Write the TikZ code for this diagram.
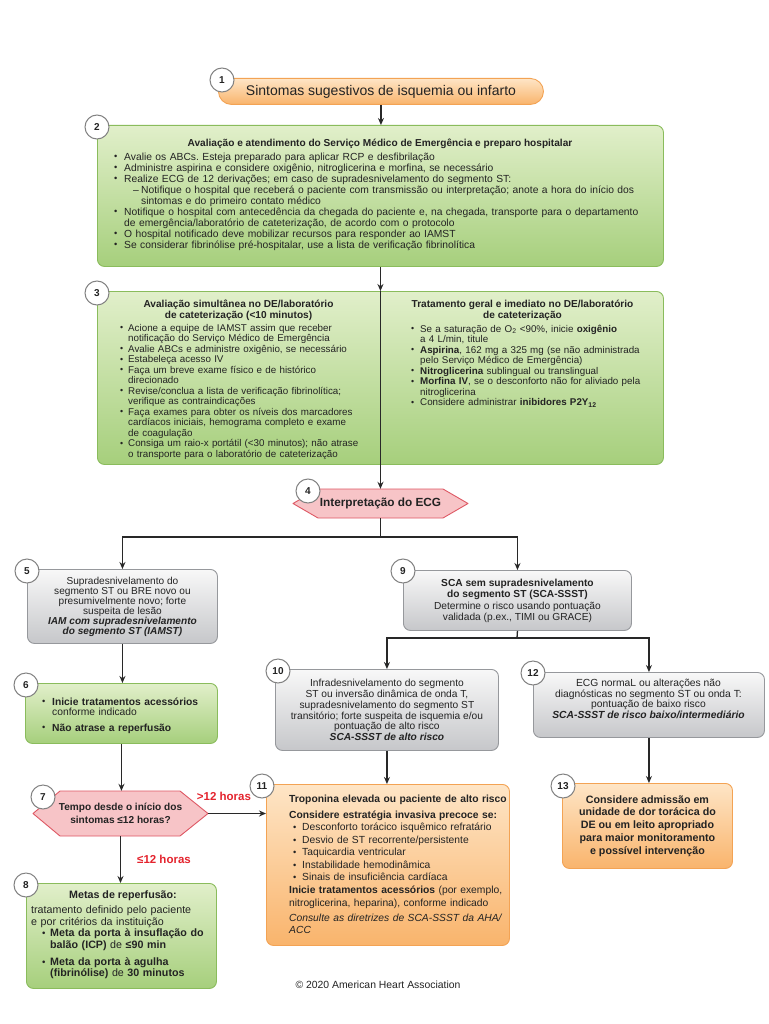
\documentclass[tikz,border=0pt]{standalone}
\usepackage{fontspec}
\setmainfont{Liberation Sans}
\usetikzlibrary{arrows.meta}
\setlength{\parindent}{0pt}
\frenchspacing
\definecolor{grtop}{RGB}{225,239,202}
\definecolor{grbot}{RGB}{166,207,124}
\definecolor{grline}{RGB}{138,188,92}
\definecolor{ortop}{RGB}{254,229,198}
\definecolor{orbot}{RGB}{249,180,108}
\definecolor{orline}{RGB}{243,163,84}
\definecolor{pkfill}{RGB}{247,196,199}
\definecolor{pkline}{RGB}{222,88,100}
\definecolor{gytop}{RGB}{248,248,248}
\definecolor{gybot}{RGB}{198,199,202}
\definecolor{gyline}{RGB}{150,152,156}
\definecolor{hred}{RGB}{228,35,45}
\definecolor{txt}{RGB}{35,35,35}
\definecolor{numline}{RGB}{130,130,130}
\definecolor{linec}{RGB}{40,40,40}
\newcommand{\fs}[2]{\fontsize{#1}{#2}\selectfont}
\newcommand{\sbul}{\raisebox{0.2pt}{\scalebox{0.9}{\textbullet}}}
\newcommand{\bul}[2]{\par\noindent\hangindent=\dimexpr#1+#2\relax\hangafter=1\hspace*{#1}\makebox[#2][l]{\sbul}}
\newcommand{\dsh}[2]{\par\noindent\hangindent=\dimexpr#1+#2\relax\hangafter=1\hspace*{#1}\makebox[#2][l]{–}}
\newcommand{\nl}{\break}
\begin{document}
\begin{tikzpicture}[x=1pt,y=-1pt,text=txt,
  box/.style={rounded corners=7pt, line width=0.9pt, inner sep=0pt, anchor=north west},
  gbox/.style={box, draw=grline, top color=grtop, bottom color=grbot},
  obox/.style={box, draw=orline, top color=ortop, bottom color=orbot},
  ybox/.style={box, draw=gyline, top color=gytop, bottom color=gybot},
  hexfill/.style={fill=pkfill, draw=pkline, line width=0.9pt, line join=round},
  num/.style={circle, draw=numline, line width=1pt, fill=white, minimum size=24pt, inner sep=0pt, font=\bfseries\fs{10}{10}},
  conn/.style={line width=1.3pt, draw=linec},
  arr/.style={conn, -{Stealth[length=7pt,width=6pt]}},
  lst/.style={anchor=north west, inner sep=0pt, align=left},
  ttl/.style={anchor=north, inner sep=0pt, align=center, font=\bfseries\fs{10.1}{11}},
  lab/.style={font=\bfseries\fs{11.5}{12}, text=hred, inner sep=0pt}
]
\useasboundingbox[fill=white] (0,0) rectangle (768,1024);

% ---------- boxes ----------
\node[obox, rounded corners=13pt, minimum width=325pt, minimum height=26pt, font=\fs{14}{15}] (b1) at (218,78) {Sintomas sugestivos de isquemia ou infarto};
\node[gbox, minimum width=566pt, minimum height=141pt] (b2) at (97,125) {};
\node[gbox, minimum width=566pt, minimum height=173pt] (b3) at (97,291) {};

\filldraw[hexfill] (293,503.5) -- (318,489) -- (443,489) -- (468,503.5) -- (443,518) -- (318,518) -- cycle;
\node[minimum width=175pt, minimum height=29pt, inner sep=0pt, font=\bfseries\fs{11.8}{12}] (b4) at (380.5,503.5) {Interpretação do ECG};

\node[ybox, minimum width=190pt, minimum height=74pt, align=center, font=\fs{10.1}{10}] (b5) at (27,569) {Supradesnivelamento do\\segmento ST ou BRE novo ou\\presumivelmente novo; forte\\suspeita de lesão\\\textbf{\textit{IAM com supradesnivelamento}}\\\textbf{\textit{do segmento ST (IAMST)}}};

\node[ybox, minimum width=228pt, minimum height=60pt, align=center, font=\fs{10.2}{11}] (b9) at (403,570) {\textbf{SCA sem supradesnivelamento}\\\textbf{do segmento ST (SCA-SSST)}\\[1pt]Determine o risco usando pontuação\\validada (p.ex., TIMI ou GRACE)};

\node[gbox, minimum width=192pt, minimum height=60pt] (b6) at (25,683) {};

\filldraw[hexfill] (33,813.5) -- (60,791) -- (180,791) -- (208,813.5) -- (180,836) -- (60,836) -- cycle;
\node[minimum width=175pt, minimum height=45pt, inner sep=0pt, align=center, font=\bfseries\fs{10.1}{13.5}] (b7) at (120.5,813.5) {Tempo desde o início dos\\sintomas ≤12 horas?};

\node[gbox, minimum width=190pt, minimum height=105pt] (b8) at (26,883) {};

\node[ybox, minimum width=223pt, minimum height=81pt, align=center, font=\fs{10.2}{10.8}] (b10) at (275,669) {Infradesnivelamento do segmento\\ST ou inversão dinâmica de onda T,\\supradesnivelamento do segmento ST\\transitório; forte suspeita de isquemia e/ou\\pontuação de alto risco\\\textbf{\textit{SCA-SSST de alto risco}}};

\node[obox, minimum width=243pt, minimum height=161pt] (b11) at (266,784) {};

\node[ybox, minimum width=231pt, minimum height=65pt] (b12) at (533,672) {};
\node[align=center, font=\fs{10.3}{10.5}, inner sep=0pt] (t12) at (648.5,699) {ECG normaL ou alterações não\\diagnósticas no segmento ST ou onda T:\\pontuação de baixo risco\\\textbf{\textit{SCA-SSST de risco baixo/intermediário}}};

\node[obox, minimum width=170pt, minimum height=85pt, align=center, font=\bfseries\fs{10.7}{12.8}] (b13) at (562,783) {Considere admissão em\\unidade de dor torácica do\\DE ou em leito apropriado\\para maior monitoramento\\e possível intervenção};

% ---------- texts in list boxes ----------
\node[anchor=base, inner sep=0pt, font=\bfseries\fs{10.1}{11}] (t2) at (380,146.5) {Avaliação e atendimento do Serviço Médico de Emergência e preparo hospitalar};
\node[lst, text width=545pt, font=\fs{10.3}{11}] (l2) at (114,148.9) {%
\bul{0pt}{10pt}Avalie os ABCs. Esteja preparado para aplicar RCP e desfibrilação
\bul{0pt}{10pt}Administre aspirina e considere oxigênio, nitroglicerina e morfina, se necessário
\bul{0pt}{10pt}Realize ECG de 12 derivações; em caso de supradesnivelamento do segmento ST:
\dsh{19pt}{8pt}Notifique o hospital que receberá o paciente com transmissão ou interpretação; anote a hora do início dos\nl sintomas e do primeiro contato médico
\bul{0pt}{10pt}Notifique o hospital com antecedência da chegada do paciente e, na chegada, transporte para o departamento\nl de emergência/laboratório de cateterização, de acordo com o protocolo
\bul{0pt}{10pt}O hospital notificado deve mobilizar recursos para responder ao IAMST
\bul{0pt}{10pt}Se considerar fibrinólise pré-hospitalar, use a lista de verificação fibrinolítica\par};

\node[ttl] (t3a) at (238.5,299.9) {Avaliação simultânea no DE/laboratório\\de cateterização (<10 minutos)};
\node[ttl] (t3b) at (522.5,299.9) {Tratamento geral e imediato no DE/laboratório\\de cateterização};
\node[lst, text width=258pt, font=\fs{9.8}{10.5}] (l3a) at (120,320.3) {%
\bul{0pt}{8pt}Acione a equipe de IAMST assim que receber\nl notificação do Serviço Médico de Emergência
\bul{0pt}{8pt}Avalie ABCs e administre oxigênio, se necessário
\bul{0pt}{8pt}Estabeleça acesso IV
\bul{0pt}{8pt}Faça um breve exame físico e de histórico\nl direcionado
\bul{0pt}{8pt}Revise/conclua a lista de verificação fibrinolítica;\nl verifique as contraindicações
\bul{0pt}{8pt}Faça exames para obter os níveis dos marcadores\nl cardíacos iniciais, hemograma completo e exame\nl de coagulação
\bul{0pt}{8pt}Consiga um raio-x portátil (<30 minutos); não atrase\nl o transporte para o laboratório de cateterização\par};
\node[lst, text width=250pt, font=\fs{9.8}{10.5}] (l3b) at (411,321.3) {%
\bul{0pt}{9pt}Se a saturação de O\textsubscript{2} <90\%, inicie \textbf{oxigênio}\nl a 4 L/min, titule
\bul{0pt}{9pt}\textbf{Aspirina}, 162 mg a 325 mg (se não administrada\nl pelo Serviço Médico de Emergência)
\bul{0pt}{9pt}\textbf{Nitroglicerina} sublingual ou translingual
\bul{0pt}{9pt}\textbf{Morfina IV}, se o desconforto não for aliviado pela\nl nitroglicerina
\bul{0pt}{9pt}Considere administrar \textbf{inibidores P2Y\textsubscript{12}}\par};

\node[lst, text width=180pt, font=\fs{10.3}{10}] (l6) at (42,694.8) {%
\bul{0pt}{10pt}\textbf{Inicie tratamentos acessórios}\nl conforme indicado\par\vspace{6pt}
\bul{0pt}{10pt}\textbf{Não atrase a reperfusão}\par};

\node[anchor=base, inner sep=0pt, font=\bfseries\fs{10.7}{12}] (t8) at (123,898.5) {Metas de reperfusão:};
\node[lst, text width=185pt, font=\fs{10.7}{11.7}] (l8) at (31,905.5) {%
tratamento definido pelo paciente\nl e por critérios da instituição
\bul{11pt}{8pt}\textbf{Meta da porta à insuflação do}\nl \textbf{balão (ICP)} de \textbf{≤90 min}\par\vspace{5pt}
\bul{11pt}{8pt}\textbf{Meta da porta à agulha}\nl \textbf{(fibrinólise)} de \textbf{30 minutos}\par};

\node[lst, text width=228pt, font=\fs{10.3}{12.5}] (l11) at (289,794.8) {%
\textbf{Troponina elevada ou paciente de alto risco}\par\vspace{3.5pt}
\textbf{Considere estratégia invasiva precoce se:}
\bul{4pt}{9pt}Desconforto torácico isquêmico refratário
\bul{4pt}{9pt}Desvio de ST recorrente/persistente
\bul{4pt}{9pt}Taquicardia ventricular
\bul{4pt}{9pt}Instabilidade hemodinâmica
\bul{4pt}{9pt}Sinais de insuficiência cardíaca\par\vspace{0.5pt}
\textbf{Inicie tratamentos acessórios} (por exemplo,\nl nitroglicerina, heparina), conforme indicado\par\vspace{2.5pt}
\textit{Consulte as diretrizes de SCA-SSST da AHA/\nl ACC}\par};

% ---------- labels ----------
\node[lab] (lgt) at (224,796) {>12 horas};
\node[lab] (lle) at (164,859) {≤12 horas};
\node[font=\fs{10.4}{11}, inner sep=0pt] (foot) at (378,985) {© 2020 American Heart Association};

% ---------- connectors ----------
\draw[arr] (b1.south) -- (b1.south |- b2.north);
\draw[arr] (b2.south) -- (b3.north);
\draw[conn] (b3.north) -- (b3.south);
\draw[arr] (b3.south) -- (b3.south |- b4.north);
\coordinate (j1) at (380.5,537);
\draw[conn] (b4.south) -- (j1);
\draw[arr] (j1) -| (b5.north);
\draw[arr] (j1) -| (b9.north);
\draw[arr] (b5.south) -- (b5.south |- b6.north);
\draw[arr] (b6.south) -- (b6.south |- b7.north);
\draw[arr] (b7.east) -- (b7.east -| b11.west);
\draw[arr] (b7.south) -- (b7.south |- b8.north);
\coordinate (j2) at (517,638);
\draw[conn] (b9.south) -- (j2);
\draw[arr] (j2) -| (b10.north);
\draw[arr] (j2) -| (b12.north);
\draw[arr] (b10.south) -- (b10.south |- b11.north);
\draw[arr] (b12.south) -- (b12.south |- b13.north);

% ---------- number circles ----------
\node[num] (c1) at (222,80) {1};
\node[num] (c2) at (97,127) {2};
\node[num] (c3) at (97,293) {3};
\node[num] (c4) at (308,491) {4};
\node[num] (c5) at (27,571) {5};
\node[num] (c6) at (26,685) {6};
\node[num] (c7) at (43,797) {7};
\node[num] (c8) at (26,885) {8};
\node[num] (c9) at (403,571) {9};
\node[num] (c10) at (278,671) {10};
\node[num] (c11) at (262,786) {11};
\node[num] (c12) at (533,673) {12};
\node[num] (c13) at (563,786) {13};
\end{tikzpicture}
\end{document}
